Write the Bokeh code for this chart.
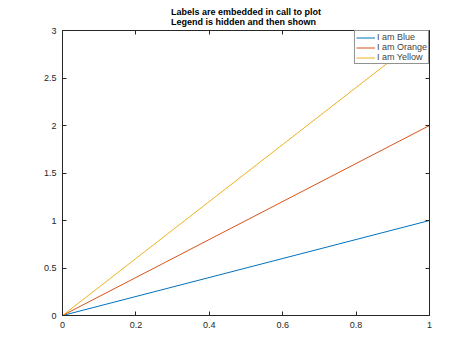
from bokeh.plotting import figure
from bokeh.models import LinearAxis, FixedTicker, Legend, LegendItem, Range1d, Title
from bokeh.embed import file_html
from bokeh.resources import INLINE

x_vals = [0, 1]
blue = [0, 1]
orange = [0, 2]
yellow = [0, 3]
labels = ["I am Blue", "I am Orange", "I am Yellow"]
colors = ["#0072BD", "#D95319", "#EDB120"]
x_ticks = [0, 0.2, 0.4, 0.6, 0.8, 1]
x_tick_labels = ["0", "0.2", "0.4", "0.6", "0.8", "1"]
y_ticks = [0, 0.5, 1, 1.5, 2, 2.5, 3]
y_tick_labels = ["0", "0.5", "1", "1.5", "2", "2.5", "3"]
title_lines = ["Labels are embedded in call to plot", "Legend is hidden and then shown"]

FONT = "Liberation Sans"
AX = "#262626"

p = figure(width=474, height=355, output_backend="svg", toolbar_location=None,
           x_range=Range1d(0, 1), y_range=Range1d(0, 3),
           min_border_left=62, min_border_right=45, min_border_top=30, min_border_bottom=40,
           x_axis_location=None, y_axis_location=None)
p.grid.visible = False
p.outline_line_color = AX
p.outline_line_width = 1
p.background_fill_color = "white"
p.border_fill_color = "white"

def style(ax, show_labels, ticks, tick_labels):
    ax.ticker = FixedTicker(ticks=ticks)
    ax.major_label_overrides = {t: (l if show_labels else "") for t, l in zip(ticks, tick_labels)}
    ax.major_tick_in = 4
    ax.major_tick_out = 0
    ax.minor_tick_in = 0
    ax.minor_tick_out = 0
    ax.axis_line_color = AX
    ax.major_tick_line_color = AX
    ax.major_label_text_font = FONT
    ax.major_label_text_font_size = "9px" if show_labels else "1px"
    ax.major_label_text_color = AX
    ax.major_label_standoff = 6 if show_labels else 0

xb = LinearAxis(); style(xb, True, x_ticks, x_tick_labels)
yl = LinearAxis(); style(yl, True, y_ticks, y_tick_labels)
xt = LinearAxis(); style(xt, False, x_ticks, x_tick_labels)
yr = LinearAxis(); style(yr, False, y_ticks, y_tick_labels)
p.add_layout(xb, "below")
p.add_layout(yl, "left")
p.add_layout(xt, "above")
p.add_layout(yr, "right")

renderers = []
for ys, c in zip([blue, orange, yellow], colors):
    renderers.append(p.line(x_vals, ys, line_color=c, line_width=1))

items = [LegendItem(label=l, renderers=[r]) for l, r in zip(labels, renderers)]
leg = Legend(items=items, location="top_right", label_text_font=FONT, label_text_font_size="9px",
             label_height=7, glyph_height=7, glyph_width=19, spacing=0, padding=1, margin=0,
             label_standoff=2, border_line_color=AX, border_line_width=1,
             background_fill_alpha=1)
p.add_layout(leg, "center")

p.add_layout(Title(text="\n".join(title_lines), align="center", text_font=FONT,
                   text_font_size="9px", text_font_style="bold", text_color="black",
                   text_line_height=1.0, standoff=8, offset=0), "above")

with open("out.html", "w") as f:
    f.write(file_html(p, INLINE))
